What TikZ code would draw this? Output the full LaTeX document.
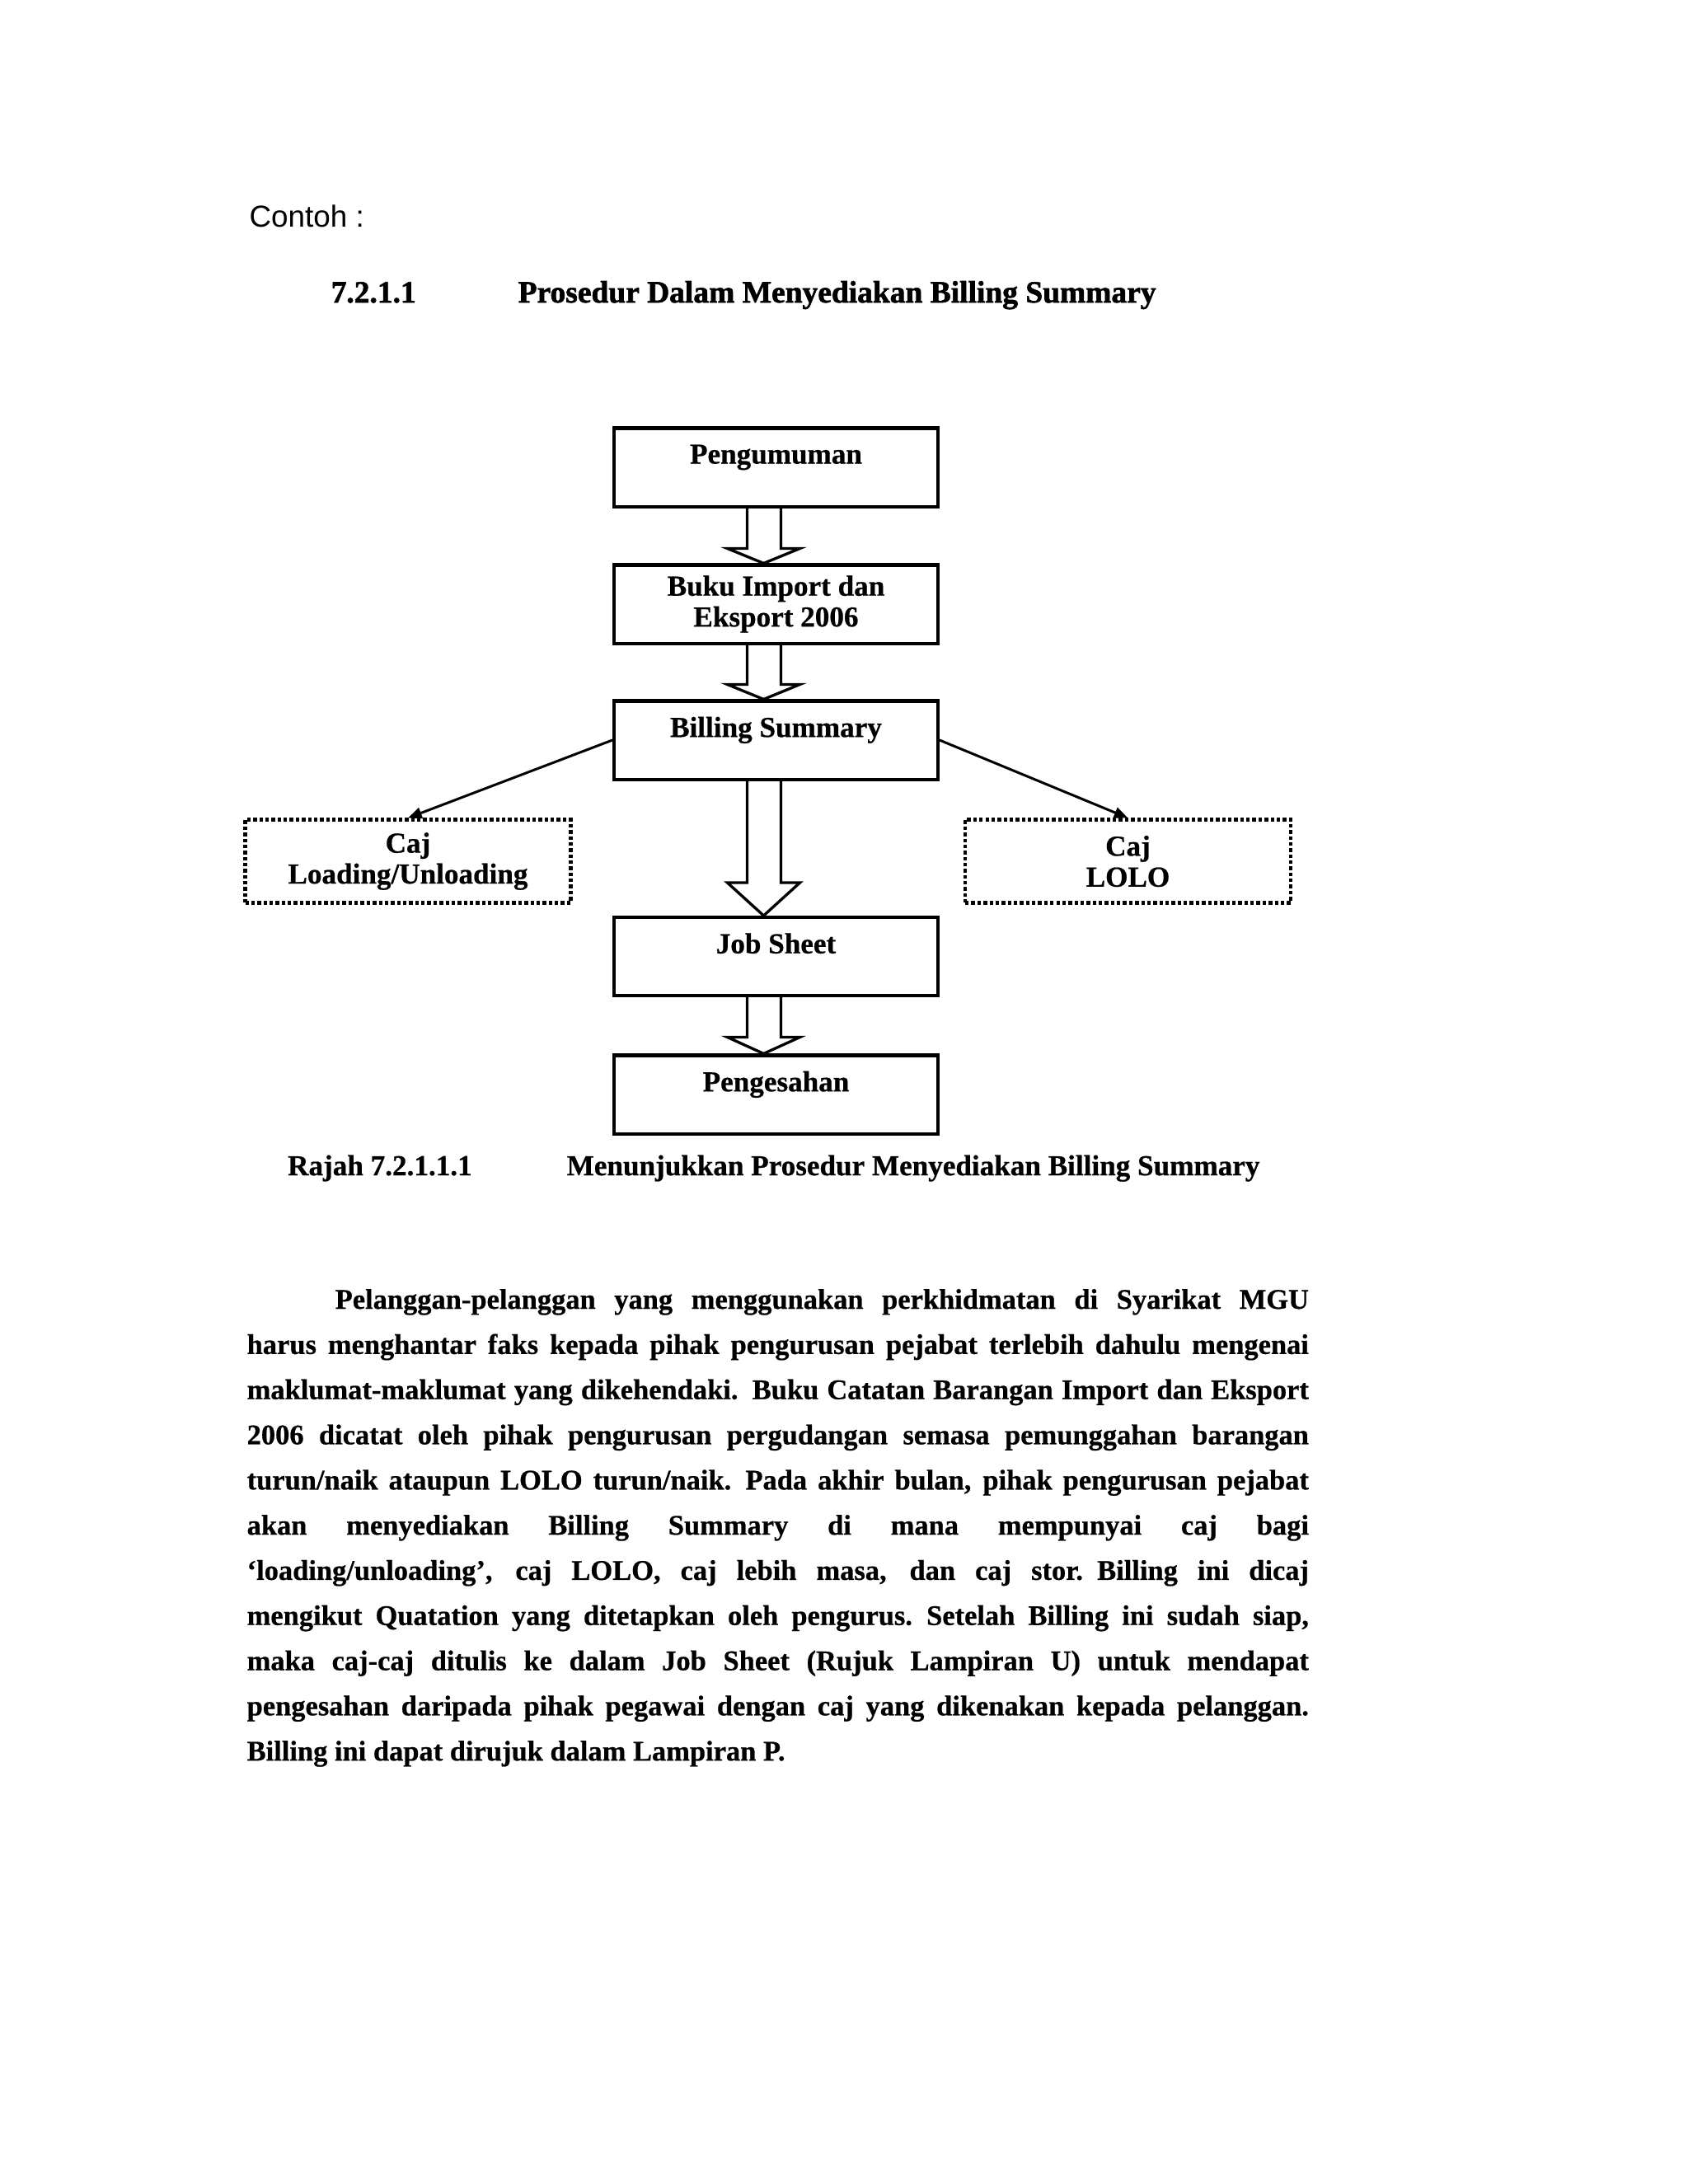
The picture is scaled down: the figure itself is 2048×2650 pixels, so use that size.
\documentclass[tikz,border=0pt]{standalone}
\usepackage{fontspec}
\setmainfont{Liberation Serif}[BoldFeatures={FakeBold=0.6}]
\newfontfamily\headfont{Liberation Serif}[BoldFeatures={FakeBold=1.6}]
\newfontfamily\arialfont{Liberation Sans}
\usetikzlibrary{arrows.meta}
\usetikzlibrary{calc}

\tikzset{
  box/.style={draw,line width=1.2pt,minimum width=117.4pt,minimum height=28.4pt,
    inner sep=0pt,align=center,font=\bfseries\fontsize{10.5}{11.2}\selectfont},
  dotbox/.style={box,line width=1.4pt,dash pattern=on 1.3pt off 0.9pt,
    minimum width=118pt,minimum height=30pt},
  arrowline/.style={line width=1pt,line join=miter},
  txt/.style={anchor=base west,inner sep=0pt},
}

% hollow arrow: from node, to node, head length
\newcommand{\hollowarrow}[3]{%
  \draw[arrowline] ($(#1.south)+(-35,0)$) -- ($(#2.north)+(-35,-#3)$)
    -- ($(#2.north)+(-59,-#3)$) -- ($(#2.north)+(-15,0)$)
    -- ($(#2.north)+(29,-#3)$) -- ($(#2.north)+(6,-#3)$) -- ($(#1.south)+(6,0)$);}
\newcommand{\pline}[1]{\makebox[385pt][s]{#1}}
\newcommand{\wordspace}{\spaceskip=0.25em plus 1.5em minus 0.1em\relax}

\begin{document}
\begin{tikzpicture}[x=0.29883pt,y=-0.29883pt,>={Triangle[length=5pt,width=4pt]}]
    \path[fill=white] (0,0) rectangle (2048,2650);

    \node[txt,font=\arialfont\fontsize{11}{13}\selectfont] (contoh) at (302,275) {Contoh :};
    \node[txt,font=\headfont\bfseries\fontsize{11.2}{13}\selectfont] (secnum) at (401,367) {7.2.1.1};
    \node[txt,font=\headfont\bfseries\fontsize{11.2}{13}\selectfont] (sectitle) at (628,367) {Prosedur Dalam Menyediakan Billing Summary};

    \node[box] (peng) at (941.5,567) {Pengumuman\\[-5pt]\strut};
    \node[box] (buku) at (941.5,733) {Buku Import dan\\Eksport 2006};
    \node[box] (bill) at (941.5,898) {Billing Summary\\[-5pt]\strut};
    \node[box] (job) at (941.5,1160.5) {Job Sheet\\[-5pt]\strut};
    \node[box] (sah) at (941.5,1328) {Pengesahan\\[-5pt]\strut};
    \node[dotbox] (load) at (495,1045) {Caj\\Loading/Unloading};
    \node[dotbox] (lolo) at (1368.5,1045) {Caj\\LOLO};

    \hollowarrow{peng}{buku}{18}
    \hollowarrow{buku}{bill}{18}
    \hollowarrow{bill}{job}{40}
    \hollowarrow{job}{sah}{20}

    \draw[->,line width=0.9pt] (bill.west) -- (load.north);
    \draw[->,line width=0.9pt] (bill.east) -- (lolo.north);

    \node[txt,font=\bfseries\fontsize{10.5}{13}\selectfont] (rajah) at (348.5,1426) {Rajah 7.2.1.1.1};
    \node[txt,font=\bfseries\fontsize{10.5}{13}\selectfont] (caption) at (687,1426) {Menunjukkan Prosedur Menyediakan Billing Summary};

    \node[txt,text width=385pt,align=left,font=\bfseries\fontsize{10.3}{16.38}\selectfont] (para) at (299,1588) {\wordspace
      \hspace*{32pt}\makebox[353pt][s]{Pelanggan-pelanggan yang menggunakan perkhidmatan di Syarikat MGU}\\
      \pline{harus menghantar faks kepada pihak pengurusan pejabat terlebih dahulu mengenai}\\
      \pline{maklumat-maklumat yang dikehendaki. Buku Catatan Barangan Import dan Eksport}\\
      \pline{2006 dicatat oleh pihak pengurusan pergudangan semasa pemunggahan barangan}\\
      \pline{turun/naik ataupun LOLO turun/naik. Pada akhir bulan, pihak pengurusan pejabat}\\
      \pline{akan menyediakan Billing Summary di mana mempunyai caj bagi}\\
      \pline{‘loading/unloading’, caj LOLO, caj lebih masa, dan caj stor. Billing ini dicaj}\\
      \pline{mengikut Quatation yang ditetapkan oleh pengurus. Setelah Billing ini sudah siap,}\\
      \pline{maka caj-caj ditulis ke dalam Job Sheet (Rujuk Lampiran U) untuk mendapat}\\
      \pline{pengesahan daripada pihak pegawai dengan caj yang dikenakan kepada pelanggan.}\\
      Billing ini dapat dirujuk dalam Lampiran P.};
\end{tikzpicture}
\end{document}
